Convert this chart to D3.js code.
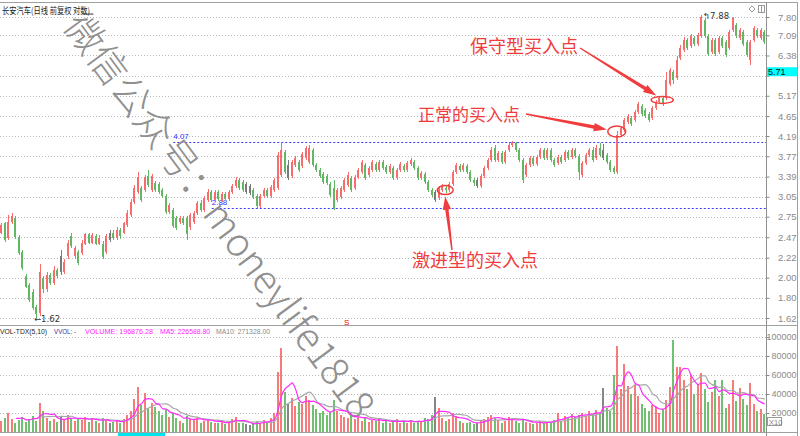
<!DOCTYPE html>
<html><head><meta charset="utf-8">
<script src="https://cdn.jsdelivr.net/npm/d3@7"></script>
<style>body{margin:0;background:#fff}svg{display:block}</style>
</head><body><svg id="c" width="800" height="436"></svg>
<script>
// ---------------- DATA ----------------
const openP=[2.53,2.66,2.46,2.67,2.73,2.47,2.29,2.02,1.92,1.86,
1.72,1.66,2.00,1.88,2.03,1.94,2.08,2.06,2.06,2.24,
2.48,2.24,2.29,2.27,2.39,2.51,2.40,2.48,2.39,2.39,
2.29,2.43,2.53,2.46,2.56,2.53,2.63,2.77,2.97,3.13,
3.19,3.16,3.40,3.16,3.28,3.26,3.16,3.06,2.82,2.85,
2.73,2.67,2.73,2.73,2.60,2.67,2.80,2.95,2.85,3.00,
3.13,3.00,3.13,3.00,3.10,3.02,3.13,3.23,3.33,3.29,
3.26,3.23,3.16,3.06,2.91,3.06,3.16,3.06,3.16,3.19,
3.42,3.85,3.60,3.40,3.60,3.66,3.58,3.73,3.66,3.89,
3.60,3.51,3.44,3.40,3.26,3.19,3.00,3.05,3.16,3.24,
3.37,3.19,3.38,3.47,3.60,3.42,3.51,3.62,3.51,3.66,
3.57,3.47,3.55,3.37,3.51,3.58,3.51,3.62,3.66,3.55,
3.37,3.44,3.29,3.16,3.13,3.03,3.16,3.19,3.16,3.26,
3.47,3.58,3.51,3.58,3.47,3.33,3.33,3.23,3.40,3.55,
3.70,3.93,3.70,3.83,3.66,3.89,4.00,4.03,3.89,3.70,
3.42,3.60,3.73,3.62,3.75,3.89,3.73,3.89,3.70,3.64,
3.75,3.70,3.85,3.75,3.89,3.77,3.42,3.64,3.79,3.89,
3.73,3.93,3.89,3.79,3.66,3.55,3.47,4.21,4.32,4.51,
4.60,4.56,4.75,4.90,4.80,4.70,4.60,4.85,5.01,5.11,
5.11,5.50,5.85,5.67,6.30,6.57,6.92,6.71,6.99,6.78,
7.06,7.68,7.06,6.50,6.92,6.50,6.99,6.85,6.64,7.29,
7.48,6.99,7.21,6.85,6.23,6.92,7.29,6.99,7.21];
const closeP=[2.63,2.43,2.67,2.76,2.47,2.27,2.10,1.90,1.78,1.71,
1.65,2.06,1.88,2.03,1.94,2.08,2.02,2.24,2.17,2.40,
2.36,2.33,2.16,2.40,2.51,2.40,2.50,2.39,2.46,2.23,
2.48,2.53,2.46,2.57,2.48,2.66,2.81,2.97,3.19,3.38,
3.00,3.38,3.24,3.40,3.16,3.13,3.06,2.82,2.92,2.62,
2.59,2.73,2.66,2.51,2.77,2.80,2.95,2.85,3.03,3.13,
3.00,3.13,3.02,3.10,3.02,3.13,3.23,3.33,3.19,3.16,
3.13,3.11,3.05,2.91,3.06,3.16,3.06,3.21,3.33,3.79,
3.89,3.47,3.37,3.66,3.73,3.51,3.81,3.93,3.93,3.60,
3.51,3.40,3.29,3.28,3.08,2.88,3.16,3.19,3.33,3.42,
3.16,3.38,3.51,3.66,3.37,3.55,3.66,3.51,3.66,3.55,
3.47,3.58,3.37,3.51,3.62,3.51,3.64,3.70,3.55,3.37,
3.45,3.29,3.16,3.08,3.00,3.19,3.23,3.16,3.26,3.47,
3.60,3.51,3.60,3.47,3.33,3.28,3.23,3.40,3.55,3.70,
3.89,3.70,3.83,3.66,3.85,4.00,4.06,3.89,3.70,3.33,
3.60,3.73,3.62,3.75,3.89,3.73,3.89,3.70,3.60,3.75,
3.66,3.85,3.73,3.89,3.77,3.47,3.64,3.79,3.89,3.70,
3.93,3.79,3.73,3.66,3.51,3.47,4.21,4.37,4.56,4.65,
4.46,4.75,4.95,4.70,4.65,4.56,4.85,5.01,5.11,4.95,
5.61,5.91,5.61,6.23,6.64,6.92,6.64,7.06,6.78,7.10,
7.80,7.06,6.43,6.92,6.43,6.99,6.71,6.40,7.21,7.76,
7.06,7.29,6.78,6.40,6.85,7.37,7.06,7.29,6.85];
const highP=[2.66,2.68,2.77,2.81,2.76,2.50,2.31,2.04,1.94,1.88,
1.73,2.15,2.02,2.06,2.05,2.12,2.10,2.31,2.21,2.44,
2.53,2.36,2.31,2.43,2.53,2.53,2.52,2.51,2.50,2.42,
2.51,2.56,2.56,2.60,2.59,2.68,2.85,3.02,3.24,3.47,
3.22,3.42,3.51,3.44,3.31,3.29,3.19,3.10,2.95,2.88,
2.76,2.76,2.76,2.76,2.80,2.83,2.98,3.00,3.06,3.18,
3.16,3.16,3.16,3.13,3.13,3.16,3.26,3.38,3.37,3.33,
3.29,3.26,3.19,3.10,3.10,3.19,3.19,3.24,3.37,3.85,
4.04,3.89,3.70,3.70,3.77,3.70,3.85,3.98,4.00,3.93,
3.64,3.55,3.47,3.44,3.29,3.33,3.19,3.22,3.37,3.47,
3.40,3.42,3.55,3.70,3.64,3.58,3.70,3.66,3.70,3.70,
3.60,3.62,3.58,3.55,3.66,3.62,3.68,3.73,3.70,3.58,
3.49,3.47,3.33,3.19,3.16,3.22,3.26,3.22,3.29,3.51,
3.64,3.62,3.64,3.62,3.51,3.37,3.37,3.44,3.58,3.73,
3.96,4.00,3.87,3.87,3.89,4.04,4.08,4.06,3.93,3.73,
3.64,3.77,3.77,3.79,3.93,3.93,3.93,3.93,3.73,3.79,
3.79,3.89,3.89,3.93,3.93,3.81,3.68,3.83,3.93,3.96,
4.00,4.04,4.02,3.83,3.70,3.58,4.30,4.42,4.60,4.70,
4.65,4.80,5.01,4.95,4.85,4.75,4.90,5.06,5.16,5.16,
5.85,5.97,5.91,6.36,6.74,7.03,6.99,7.14,7.06,7.18,
7.88,7.76,7.14,6.99,6.99,7.06,7.06,6.92,7.29,7.80,
7.56,7.37,7.29,6.92,6.92,7.44,7.37,7.37,7.29];
const lowP=[2.51,2.41,2.43,2.64,2.45,2.25,2.08,1.89,1.76,1.69,
1.62,1.64,1.85,1.86,1.92,1.92,2.00,2.03,2.04,2.21,
2.33,2.21,2.14,2.25,2.37,2.38,2.38,2.37,2.37,2.20,
2.26,2.41,2.44,2.44,2.45,2.51,2.60,2.74,2.94,3.10,
2.97,3.13,3.21,3.13,3.13,3.10,3.03,2.79,2.79,2.59,
2.56,2.64,2.63,2.43,2.57,2.64,2.77,2.82,2.82,2.97,
2.97,2.97,2.98,2.97,2.98,2.98,3.10,3.19,3.16,3.13,
3.10,3.08,3.02,2.88,2.88,3.03,3.03,3.03,3.13,3.16,
3.38,3.44,3.33,3.37,3.56,3.47,3.55,3.70,3.62,3.56,
3.47,3.37,3.26,3.24,3.05,2.85,2.97,3.02,3.13,3.21,
3.13,3.16,3.35,3.44,3.33,3.38,3.47,3.47,3.47,3.51,
3.44,3.44,3.33,3.33,3.47,3.47,3.47,3.58,3.51,3.33,
3.33,3.26,3.13,3.05,2.97,3.00,3.13,3.11,3.13,3.23,
3.44,3.47,3.47,3.44,3.29,3.23,3.19,3.19,3.37,3.51,
3.66,3.66,3.66,3.62,3.62,3.85,3.96,3.85,3.66,3.28,
3.38,3.56,3.58,3.58,3.71,3.70,3.70,3.66,3.56,3.60,
3.62,3.66,3.70,3.71,3.73,3.33,3.38,3.60,3.75,3.66,
3.70,3.75,3.70,3.62,3.47,3.44,3.44,4.16,4.28,4.46,
4.42,4.51,4.70,4.65,4.60,4.51,4.56,4.80,4.95,4.90,
5.06,5.44,5.50,5.61,6.23,6.50,6.57,6.64,6.71,6.71,
6.99,6.99,6.36,6.43,6.36,6.43,6.64,6.33,6.57,7.21,
6.99,6.92,6.71,6.33,6.07,6.85,6.99,6.92,6.78];
const volume=[12000,15000,20000,14000,10000,13000,16000,11000,14000,17000,
12000,31000,22000,15000,12000,14000,11000,16000,13000,18000,
14000,12000,15000,13000,16000,11000,14000,12000,10000,15000,
13000,9000,11000,12000,10000,14000,18000,22000,35000,47000,
28000,41000,25000,31000,26000,22000,18000,24000,16000,20000,
15000,12000,10000,17000,14000,13000,15000,10000,12000,14000,
11000,10000,9000,11000,8000,12000,14000,16000,10000,9000,
8000,7000,9000,12000,10000,13000,9000,15000,20000,63000,
88000,42000,30000,36000,27000,32000,30000,38000,34000,28000,
24000,20000,22000,18000,21000,34000,22000,18000,16000,15000,
19000,14000,16000,12000,15000,11000,13000,12000,14000,10000,
12000,9000,11000,14000,10000,12000,9000,13000,10000,12000,
11000,15000,14000,18000,37000,25000,15000,12000,14000,20000,
17000,12000,10000,9000,11000,8000,10000,12000,14000,16000,
18000,15000,13000,10000,12000,16000,14000,12000,10000,14000,
11000,9000,8000,10000,12000,9000,11000,10000,13000,20000,
12000,17000,15000,19000,16000,18000,20000,17000,22000,19000,
23000,20000,46000,25000,22000,60000,91000,45000,72000,48000,
40000,50000,38000,30000,25000,22000,28000,26000,20000,24000,
34000,47000,97000,68000,68000,55000,45000,60000,40000,50000,
62000,45000,32000,42000,55000,38000,55000,25000,30000,55000,
33000,46000,35000,28000,52000,30000,22000,24000,19000];
const grayIdx=[17,31,70,71,82,124,136,172];
const priceTicks=[7.80,7.09,6.38,5.74,5.17,4.65,4.19,3.77,3.39,3.05,2.75,2.47,2.22,2.00,1.80,1.62];
const hiddenTick=5.74; // label covered by the cursor box
const volTicks=[20000,40000,60000,80000,100000];
const levelValues=[4.07,2.88];
const levelStartIdx=[49,60];
const buyIdx=[127,176,189];
const buyPrice=[3.16,4.29,5.06];
const buyLabels=["激进型的买入点","正常的买入点","保守型买入点"];
const title="长安汽车(日线 前复权 对数)";
const lowMark={idx:10,value:1.62}, highMark={idx:200,value:7.88};
const cursorPrice=5.71;
const watermark="微信公众号：moneylife1818";
const volHeader=["VOL-TDX(5,10)","VVOL: -","VOLUME: 196876.28","MA5: 226588.80","MA10: 271328.00"];

// ---------------- LAYOUT ----------------
const N=closeP.length;
const svg=d3.select("#c");
const RIGHT=766.5, VTOP=325.5, VBOT=432;
const x=d3.scaleLinear().domain([-0.5,N-0.5]).range([0,RIGHT]);
const y=d3.scaleLog().domain([1.62,7.80]).range([318,17]);
const yv=d3.scaleLinear().domain([0,100000]).range([VBOT,337]);
const RED="#f76d6d", GREEN="#62b862", GRAY="#7a7a7a";
const colorOf=i=>grayIdx.includes(i)?GRAY:(closeP[i]>=openP[i]?RED:GREEN);
const cx=i=>Math.floor(x(i));

// frame
svg.append("line").attr("x1",0).attr("x2",797.5).attr("y1",2.5).attr("y2",2.5).attr("stroke","#a0a0a0");
svg.append("line").attr("x1",0).attr("x2",797.5).attr("y1",VTOP).attr("y2",VTOP).attr("stroke","#a0a0a0");
svg.append("line").attr("x1",0).attr("x2",797.5).attr("y1",VBOT+0.5).attr("y2",VBOT+0.5).attr("stroke","#a0a0a0");
svg.append("line").attr("x1",797.5).attr("x2",797.5).attr("y1",2).attr("y2",436).attr("stroke","#a0a0a0");
svg.append("rect").attr("x",118).attr("y",433).attr("width",47).attr("height",3).attr("fill","#00e5ee");

// grid
const gGrid=svg.append("g");
gGrid.selectAll("line.p").data(priceTicks).join("line")
 .attr("x1",0).attr("x2",RIGHT).attr("y1",d=>Math.round(y(d))+0.5).attr("y2",d=>Math.round(y(d))+0.5)
 .attr("stroke","#b8b8b8").attr("stroke-dasharray","1,2");
gGrid.selectAll("line.v").data(volTicks).join("line")
 .attr("x1",0).attr("x2",RIGHT).attr("y1",d=>Math.round(yv(d))+0.5).attr("y2",d=>Math.round(yv(d))+0.5)
 .attr("stroke","#b8b8b8").attr("stroke-dasharray","1,2");

// level lines
levelValues.forEach((v,k)=>{
  const yy=Math.round(y(v))+0.5;
  svg.append("line").attr("x1",x(levelStartIdx[k])).attr("x2",RIGHT).attr("y1",yy).attr("y2",yy)
    .attr("stroke","#3d3dff").attr("stroke-dasharray","2,2");
  svg.append("text").attr("x",x(levelStartIdx[k])).attr("y",yy-4).text(v.toFixed(2))
    .attr("font-family","Liberation Sans, Arial").attr("font-size",8).attr("fill","#3030ff");
});

// watermark
svg.append("text").text(watermark)
 .attr("transform","translate(62,26) rotate(53.5)")
 .attr("font-family","Noto Sans CJK SC, sans-serif").attr("font-size",39).attr("font-weight",300)
 .attr("fill","#909090");

// candles
const gC=svg.append("g").attr("shape-rendering","crispEdges");
const idx=d3.range(N);
gC.selectAll("rect.w").data(idx).join("rect")
 .attr("x",i=>cx(i)).attr("width",1)
 .attr("y",i=>y(highP[i])).attr("height",i=>Math.max(1,y(lowP[i])-y(highP[i])))
 .attr("fill",colorOf);
gC.selectAll("rect.b").data(idx).join("rect")
 .attr("x",i=>cx(i)-1).attr("width",2)
 .attr("y",i=>y(Math.max(openP[i],closeP[i])))
 .attr("height",i=>Math.max(1,Math.abs(y(openP[i])-y(closeP[i]))))
 .attr("fill",colorOf);

// volume bars
const gV=svg.append("g").attr("shape-rendering","crispEdges");
gV.selectAll("rect").data(idx).join("rect")
 .attr("x",i=>cx(i)-1).attr("width",2)
 .attr("y",i=>yv(volume[i])).attr("height",i=>VBOT-yv(volume[i]))
 .attr("fill",colorOf).attr("opacity",0.9);
function ma(n){return idx.map(i=>i<n-1?null:d3.mean(volume.slice(i-n+1,i+1)));}
const ma5=ma(5), ma10=ma(10);
const line=arr=>d3.line().defined(i=>arr[i]!=null).x(i=>x(i)).y(i=>yv(arr[i])).curve(d3.curveMonotoneX)(idx);
svg.append("path").attr("d",line(ma10)).attr("fill","none").attr("stroke","#a8a8a8").attr("stroke-width",1.2);
svg.append("path").attr("d",line(ma5)).attr("fill","none").attr("stroke","#ff2cff").attr("stroke-width",1.2);

// axes
const axP=svg.append("g").attr("transform",`translate(${RIGHT},0)`)
 .call(d3.axisRight(y).tickValues(priceTicks).tickFormat(d=>d===hiddenTick?"":d3.format(".2f")(d)).tickSize(3));
const axV=svg.append("g").attr("transform",`translate(${RIGHT},0)`)
 .call(d3.axisRight(yv).tickValues(volTicks).tickFormat(d3.format("d")).tickSize(3));
[axP,axV].forEach(a=>{
  a.select(".domain").remove();
  a.selectAll("line").attr("stroke","#888");
  a.selectAll("text").attr("x",30).attr("text-anchor","end").attr("fill","#8a8a8a")
   .attr("font-family","Liberation Sans, Arial").attr("font-size",9.5);
});
axV.selectAll("text").attr("font-size",9).attr("dy","0.28em");
svg.append("line").attr("x1",RIGHT).attr("x2",RIGHT).attr("y1",2).attr("y2",436).attr("stroke","#909090");
// X10 box
svg.append("rect").attr("x",767.5).attr("y",417.5).attr("width",14).attr("height",8).attr("fill","#fff").attr("stroke","#999");
svg.append("text").attr("x",769).attr("y",424.5).text("X10").attr("font-family","Liberation Sans, Arial").attr("font-size",7.5).attr("fill","#888");
// cursor price box
const cy=y(cursorPrice)-5;
svg.append("rect").attr("x",767).attr("y",cy-4.5).attr("width",30).attr("height",9).attr("fill","#00ffff");
svg.append("text").attr("x",768).attr("y",cy+3.5).text(cursorPrice.toFixed(2))
 .attr("font-family","Liberation Sans, Arial").attr("font-size",9).attr("fill","#111");

// title & headers
svg.append("text").attr("x",2).attr("y",14).text(title).attr("font-family","Noto Sans CJK SC, sans-serif")
 .attr("font-size",9).attr("textLength",88).attr("lengthAdjust","spacingAndGlyphs").attr("fill","#222");
const hdrX=[0,54,85,160,216], hdrW=[47,22,68,50,54], hdrC=["#222","#33339a","#ff22ff","#ff22ff","#8a8a8a"];
volHeader.forEach((h,k)=>svg.append("text").attr("x",hdrX[k]).attr("y",334).text(h)
  .attr("font-family","Liberation Sans, Arial").attr("font-size",8)
  .attr("textLength",hdrW[k]).attr("lengthAdjust","spacingAndGlyphs").attr("fill",hdrC[k]));
// icons top right
svg.append("path").attr("d","M752,6 L755,9 L752,12 L749,9 Z").attr("fill","none").attr("stroke","#999");
svg.append("rect").attr("x",758.5).attr("y",5.5).attr("width",6).attr("height",7).attr("fill","none").attr("stroke","#999");
svg.append("line").attr("x1",761.5).attr("x2",761.5).attr("y1",5.5).attr("y2",12.5).attr("stroke","#999");

// low/high markers
svg.append("text").attr("x",cx(lowMark.idx)-2).attr("y",y(lowMark.value)+4).text("←"+lowMark.value.toFixed(2))
 .attr("font-family","DejaVu Sans, sans-serif").attr("font-size",8.5).attr("fill","#333");
svg.append("text").attr("x",cx(highMark.idx)+2).attr("y",y(highMark.value)+4).text("↰"+highMark.value.toFixed(2))
 .attr("font-family","DejaVu Sans, sans-serif").attr("font-size",8.5).attr("fill","#333");
svg.append("text").attr("x",344).attr("y",325).text("S").attr("font-family","Liberation Sans").attr("font-size",8).attr("fill","#e00");

// buy points
const ANN="#f03c3c";
const ell=[[8,4.5],[9,5.5],[11,3.5]];
buyIdx.forEach((bi,k)=>{
  svg.append("ellipse").attr("cx",x(bi)-1).attr("cy",y(buyPrice[k])).attr("rx",ell[k][0]).attr("ry",ell[k][1])
   .attr("fill","none").attr("stroke",ANN).attr("stroke-width",1.5);
});
const labelPos=[[412,267,18],[418,121,17],[470,53,18]];
buyLabels.forEach((t,k)=>svg.append("text").attr("x",labelPos[k][0]).attr("y",labelPos[k][1]).text(t)
  .attr("font-family","Noto Sans CJK SC, sans-serif").attr("font-size",labelPos[k][2]).attr("fill",ANN));
function arrow(x1,y1,x2,y2){
  const dx=x2-x1,dy=y2-y1,L=Math.hypot(dx,dy),ux=dx/L,uy=dy/L,px=-uy,py=ux;
  const hl=13,hw=4.2,w0=0.7,w1=1.7,bx=x2-ux*hl,by=y2-uy*hl;
  const pts=[[x1+px*w0,y1+py*w0],[bx+px*w1,by+py*w1],[bx+px*hw,by+py*hw],[x2,y2],[bx-px*hw,by-py*hw],[bx-px*w1,by-py*w1],[x1-px*w0,y1-py*w0]];
  svg.append("polygon").attr("points",pts.map(p=>p.join(",")).join(" ")).attr("fill",ANN);
}
arrow(452,250, x(buyIdx[0])-1, y(buyPrice[0])+ell[0][1]+2);
arrow(526,114, x(buyIdx[1])-1-ell[1][0]-1, y(buyPrice[1])-2);
arrow(580,48, x(buyIdx[2])-1-ell[2][0]+5, y(buyPrice[2])-ell[2][1]-1);
</script></body></html>
